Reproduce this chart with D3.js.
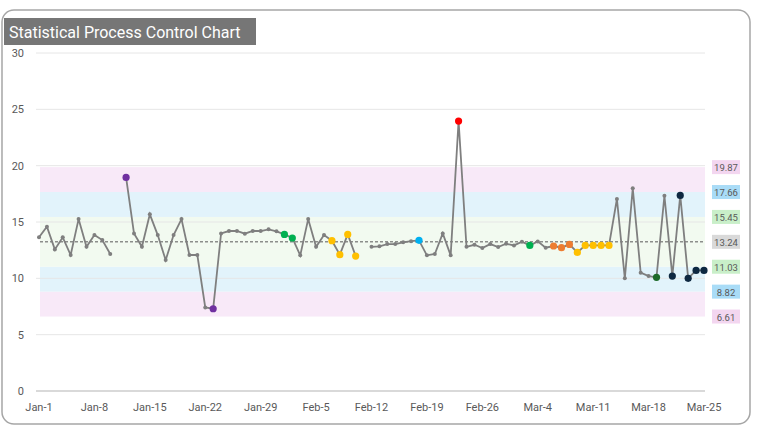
<!DOCTYPE html>
<html><head><meta charset="utf-8">
<script src="https://cdn.jsdelivr.net/npm/d3@7"></script>
<style>body{margin:0;background:#fff;font-family:Roboto,"Liberation Sans",sans-serif}</style>
</head><body><svg id="c" width="768" height="430"></svg>
<script>
const startDate = new Date(2024,0,1);
const values = [13.64,14.58,12.57,13.64,12.07,15.26,12.8,13.84,13.4,12.16,null,18.96,13.99,12.8,15.68,13.84,11.62,13.84,15.26,12.07,12.07,7.42,7.3,13.99,14.2,14.2,13.96,14.2,14.2,14.35,14.17,13.9,13.58,12.04,15.26,12.8,13.84,13.34,12.1,13.9,11.98,null,12.8,12.84,13.04,13.04,13.2,13.3,13.37,12.04,12.16,13.99,12.04,23.96,12.8,12.98,12.69,13.04,12.78,13.07,12.92,13.25,12.92,13.28,12.72,12.87,12.72,13.01,12.3,12.92,12.92,12.92,12.92,17.04,10.0,17.99,10.5,10.2,10.09,17.33,10.2,17.36,10.0,10.7,10.7];
// rule highlight colour per point index
const highlights = {11:"#7030a0",22:"#7030a0",31:"#00b050",32:"#00b050",37:"#ffc000",38:"#ffc000",39:"#ffc000",40:"#ffc000",48:"#00b0f0",53:"#ff0000",62:"#00b050",65:"#ed7d31",66:"#ed7d31",67:"#ed7d31",68:"#ffc000",69:"#ffc000",70:"#ffc000",71:"#ffc000",72:"#ffc000",78:"#1e6b2a",80:"#0e2841",81:"#0e2841",82:"#0e2841",83:"#0e2841",84:"#0e2841"};
const mean = 13.24;
const limits = [6.61,8.82,11.03,13.24,15.45,17.66,19.87];
const limitColors = ["#f3d6f0","#a9dcf7","#c9efc9","#d9d9d9","#c9efc9","#a9dcf7","#f3d6f0"];
const bandColors = ["#f8e9f8","#e2f3fb","#f2faf0","#f2faf0","#e2f3fb","#f8e9f8"];
const yTicks = [0,5,10,15,20,25,30];
const xTickDays = [0,7,14,21,28,35,42,49,56,63,70,77,84];

const data = values.map((v,i)=>({d:d3.timeDay.offset(startDate,i),v,i}));
const svg = d3.select("#c");
svg.append("rect").attr("x",2).attr("y",10).attr("width",748).attr("height",414).attr("rx",12)
  .attr("fill","#fff").attr("stroke","#a6a6a6").attr("stroke-width",1.5);
const x = d3.scaleTime().domain([startDate,d3.timeDay.offset(startDate,84)]).range([39,704]);
const y = d3.scaleLinear().domain([0,30]).range([391,53]);
const x0=36,x1=705;
// bands
for(let k=0;k<6;k++){
  svg.append("rect").attr("x",40).attr("width",x1-40).attr("y",y(limits[k+1])).attr("height",y(limits[k])-y(limits[k+1])).attr("fill",bandColors[k]);
}
// grid
svg.append("g").selectAll("line").data(yTicks).join("line").attr("x1",x0).attr("x2",x1)
 .attr("y1",d=>y(d)).attr("y2",d=>y(d)).attr("stroke","#e6e6e6");
svg.append("line").attr("x1",x0).attr("x2",x1).attr("y1",y(0)).attr("y2",y(0)).attr("stroke","#bfbfbf");
svg.append("g").selectAll("text").data(yTicks).join("text").attr("x",24).attr("y",d=>y(d)+4)
 .attr("text-anchor","end").attr("font-size",11).attr("fill","#595959").text(d=>d);
const fmt=d3.timeFormat("%b-%-d");
svg.append("g").selectAll("text").data(xTickDays).join("text").attr("x",d=>x(d3.timeDay.offset(startDate,d)))
 .attr("y",411).attr("text-anchor","middle").attr("font-size",11).attr("fill","#595959").text(d=>fmt(d3.timeDay.offset(startDate,d)));
// mean
svg.append("line").attr("x1",40).attr("x2",x1).attr("y1",y(mean)).attr("y2",y(mean)).attr("stroke","#595959").attr("stroke-dasharray","3,2").attr("stroke-width",1);
// line
const line=d3.line().defined(d=>d.v!=null).x(d=>x(d.d)).y(d=>y(d.v));
svg.append("path").datum(data).attr("d",line).attr("fill","none").attr("stroke","#7f7f7f").attr("stroke-width",1.8);
svg.append("g").selectAll("circle").data(data.filter(d=>d.v!=null)).join("circle")
 .attr("cx",d=>x(d.d)).attr("cy",d=>y(d.v)).attr("r",d=>highlights[d.i]?3.6:2)
 .attr("fill",d=>highlights[d.i]||"#7f7f7f");
// limit labels
const lg=svg.append("g").selectAll("g").data(limits).join("g").attr("transform",d=>`translate(712,${y(d)})`);
lg.append("rect").attr("x",0).attr("y",-7).attr("width",28).attr("height",14).attr("fill",(d,i)=>limitColors[i]);
lg.append("text").attr("x",14).attr("y",4).attr("text-anchor","middle").attr("font-size",9.5).attr("fill","#595959").text(d=>d.toFixed(2));
// title
svg.append("rect").attr("x",4).attr("y",18).attr("width",252).attr("height",27).attr("fill","#767676");
svg.append("text").attr("x",9).attr("y",38).attr("font-size",16).attr("fill","#fff").text("Statistical Process Control Chart");
</script></body></html>
